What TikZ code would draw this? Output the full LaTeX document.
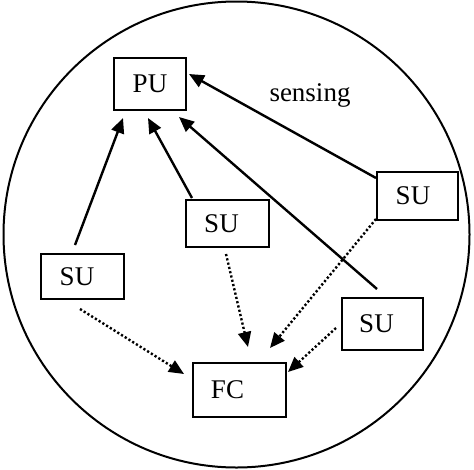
\documentclass[tikz,border=0pt]{standalone}
\usepackage{fontspec}
\setmainfont{Liberation Serif}
\usetikzlibrary{arrows.meta,calc}
\begin{document}
\begin{tikzpicture}[x=1pt,y=-1pt,
  box/.style={draw,line width=2pt,inner sep=0pt,font=\fontsize{27}{30}\selectfont},
  arr/.style={line width=2.4pt,-{Triangle[length=15pt,width=13pt]}},
  darr/.style={line width=2.4pt,dash pattern=on 2.2pt off 2.2pt,-{Triangle[length=15pt,width=13pt]}}]
\useasboundingbox (0,0) rectangle (474,469);
\node[draw,circle,line width=2pt,minimum size=466pt,inner sep=0pt] (env) at (236.5,234.5) {};
\node[box,minimum width=72pt,minimum height=52pt] (pu) at (150,84) {PU};
\node[box,minimum width=83pt,minimum height=45pt] (sul) at (82.5,276.5) {SU\kern11pt};
\node[box,minimum width=83pt,minimum height=47pt] (sum) at (227.5,223.5) {SU\kern12pt};
\node[box,minimum width=81pt,minimum height=48pt] (surt) at (417.5,196) {SU\kern9pt};
\node[box,minimum width=81pt,minimum height=52pt] (surb) at (382.5,324) {SU\kern12pt};
\node[box,minimum width=93pt,minimum height=54pt] (fc) at (239.5,390) {FC\kern24pt};
\node[font=\fontsize{27}{30}\selectfont] (sens) at (310,95) {sensing};
% solid sensing arrows
\draw[arr] ($(sul.north)+(-7.5,-8)$) -- ($(pu.south)+(-27,7)$);
\draw[arr] ($(sum.north west)+(7,-1)$) -- ($(pu.south)+(-2,7)$);
\draw[arr] ($(surb.north west)+(36,-8)$) -- ($(pu.south east)+(-8,6)$);
\draw[arr] ($(surt.north west)+(0,7)$) -- ($(pu.east)+(2,-10)$);
% dotted reporting arrows
\draw[darr] ($(sul.south)+(-2.5,9)$) -- ($(fc.north west)+(-8,12)$);
\draw[darr] ($(sum.south)+(-1.5,6)$) -- ($(fc.north)+(8.5,-15)$);
\draw[darr] ($(surt.south west)+(0,-2)$) -- ($(fc.north)+(30.5,-14)$);
\draw[darr] ($(surb.west)+(-5,4)$) -- ($(fc.north east)+(1,10)$);
\end{tikzpicture}
\end{document}
